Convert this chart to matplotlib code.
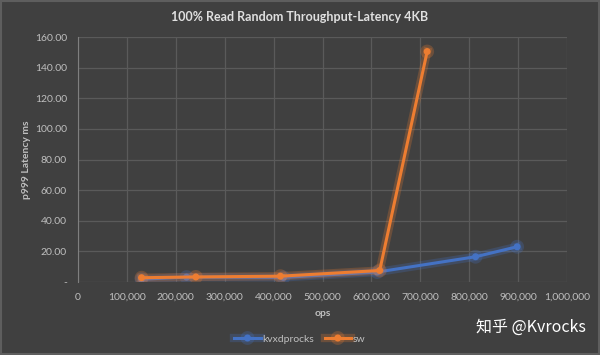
import matplotlib.pyplot as plt
import matplotlib.patheffects as pe
from matplotlib.patches import Rectangle
from matplotlib.ticker import FuncFormatter

kv_ops = [130000, 222000, 420000, 612000, 813000, 898000]
kv_lat = [1.8, 3.2, 3.0, 6.5, 16.5, 23.0]
sw_ops = [130000, 241000, 414000, 617000, 714000]
sw_lat = [2.8, 3.3, 3.8, 7.5, 150.5]

bg = '#404040'
txt = '#bfbfbf'
plt.rcParams['font.family'] = ['Lato', 'DejaVu Sans']

fig = plt.figure(figsize=(6, 3.55), dpi=100, facecolor=bg)
fig.patches.append(Rectangle((0.002, 0.003), 0.996, 0.994, transform=fig.transFigure,
                             fill=False, edgecolor='#5e5e5e', lw=1.5))
ax = fig.add_axes([78 / 600, 1 - 282 / 355, (567 - 78) / 600, (282 - 37) / 355])
ax.set_facecolor(bg)

glow = lambda c: [pe.Stroke(linewidth=6, foreground=c, alpha=0.25), pe.Normal()]
ax.plot(kv_ops, kv_lat, color='#4472C4', lw=2.2, marker='o', ms=4,
        label='kvxdprocks', path_effects=glow('#4472C4'), zorder=3)
ax.plot(sw_ops, sw_lat, color='#ED7D31', lw=2.2, marker='o', ms=4,
        label='sw', path_effects=glow('#ED7D31'), zorder=4)

ax.set_xlim(0, 1000000)
ax.set_ylim(0, 160)
ax.set_xticks(range(0, 1000001, 100000))
ax.set_yticks(range(0, 161, 20))
ax.xaxis.set_major_formatter(FuncFormatter(lambda v, p: f'{int(v):,}'))
ax.yaxis.set_major_formatter(FuncFormatter(lambda v, p: '-' if v == 0 else f'{v:.2f}'))
ax.grid(True, color='#5a5a5a', lw=0.9)
ax.set_axisbelow(True)
for s in ['top', 'right', 'bottom']:
    ax.spines[s].set_visible(False)
ax.spines['left'].set_color('#7f7f7f')
ax.tick_params(length=0, colors=txt, labelsize=7.5, pad=8)

ax.set_xlabel('ops', color=txt, fontsize=7.5, fontweight='bold', labelpad=5)
ax.set_ylabel('p999 Latency ms', color=txt, fontsize=7.5, fontweight='bold', labelpad=3)
fig.text(0.5, 1 - 17 / 355, '100% Read Random Throughput-Latency 4KB', color='#e0e0e0',
         fontsize=9, fontweight='bold', ha='center', va='center')

leg = fig.legend(loc='center', bbox_to_anchor=(0.5, 1 - 339 / 355), ncol=2, frameon=False,
                 fontsize=7.5, handlelength=2.5, columnspacing=1, handletextpad=0.2)
for t in leg.get_texts():
    t.set_color(txt)

fig.text(0.977, 1 - 327 / 355, '知乎 @Kvrocks', color='white', fontsize=11.5, ha='right', va='center',
         family=['Noto Sans CJK SC', 'DejaVu Sans'])

fig.savefig('out.png', facecolor=bg)
